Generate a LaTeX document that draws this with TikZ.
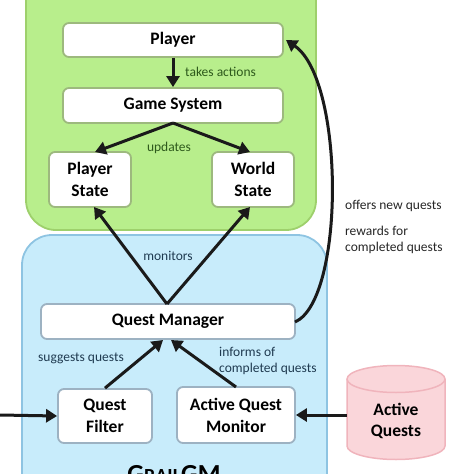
\documentclass[tikz,border=0pt]{standalone}
\usepackage{fontspec}
\setmainfont{Carlito}
\usetikzlibrary{arrows.meta}
\definecolor{greenfill}{HTML}{B8EE8C}
\definecolor{greenline}{HTML}{9ED06C}
\definecolor{bluefill}{HTML}{C8ECFB}
\definecolor{blueline}{HTML}{8EC4E2}
\definecolor{pinkfill}{HTML}{FAD6DA}
\definecolor{pinkline}{HTML}{F0B4BC}
\definecolor{gboxline}{HTML}{9DB97E}
\definecolor{bboxline}{HTML}{9DB2C2}
\definecolor{gtext}{HTML}{2E5A1C}
\definecolor{btext}{HTML}{1F3A50}
\definecolor{arrowc}{HTML}{1A1A1A}
\tikzset{
  box/.style={draw, line width=1.8pt, fill=white, rounded corners=6pt, inner sep=0pt,
    align=center, font=\fontsize{17.5}{22}\selectfont\bfseries},
  gbox/.style={box, draw=gboxline},
  bbox/.style={box, draw=bboxline},
  lbl/.style={font=\fontsize{13.5}{15.5}\selectfont, inner sep=0pt, align=left},
  arr/.style={draw=arrowc, line width=3pt, -{Triangle[length=11pt,width=13pt]}},
}
\begin{document}
\begin{tikzpicture}[x=1pt,y=-1pt]
\clip (0,0) rectangle (474,474);
\useasboundingbox (0,0) rectangle (474,474);
% containers
\draw[fill=greenfill, draw=greenline, line width=1.8pt, rounded corners=30pt] (26,-60) rectangle (316,230);
\draw[fill=bluefill, draw=blueline, line width=1.8pt, rounded corners=30pt] (22,235) rectangle (327,540);
% nodes
\node[gbox, minimum width=220pt, minimum height=34pt] (player) at (173,40) {Player};
\node[gbox, minimum width=220pt, minimum height=35pt] (gs) at (173,105.5) {Game System};
\node[gbox, minimum width=82pt, minimum height=55pt] (ps) at (90,179.5) {Player\\State};
\node[gbox, minimum width=82pt, minimum height=55pt] (ws) at (253,179.5) {World\\State};
\node[bbox, minimum width=254pt, minimum height=35pt] (qm) at (168,321.5) {Quest Manager};
\node[bbox, minimum width=94pt, minimum height=54pt] (qf) at (105,416) {Quest\\Filter};
\node[bbox, minimum width=118pt, minimum height=56pt] (aqm) at (236,415) {Active Quest\\Monitor};
% cylinder
\draw[fill=pinkfill, draw=pinkline, line width=1.5pt]
  (347,379) -- (347,446) arc[start angle=180, end angle=360, x radius=49pt, y radius=13.5pt]
  -- (445,379) arc[start angle=0, end angle=180, x radius=49pt, y radius=13.5pt] -- cycle;
\draw[draw=pinkline, line width=1.5pt] (347,379) arc[start angle=180, end angle=360, x radius=49pt, y radius=13.5pt];
\node[minimum width=98pt, minimum height=60pt, inner sep=0pt, align=center,
  font=\fontsize{17.5}{21}\selectfont\bfseries] (aq) at (396,421) {Active\\Quests};
% title
\node[inner sep=0pt, anchor=base] (title) at (174,482)
  {\bfseries\fontsize{26}{26}\selectfont G\fontsize{20}{20}\selectfont RAIL\fontsize{26}{26}\selectfont GM};
% coordinates
\coordinate (left) at (0,415);
\coordinate (gsb) at (173,123);
\coordinate (qmt) at (167,304);
\coordinate (qmr) at (295,322);
% connectors
\draw[arr] (player.south) -- (gs.north);
\draw[arr] (gsb) -- (95,152);
\draw[arr] (gsb) -- (250,152);
\draw[arr] (qmt) -- (94,207);
\draw[arr] (qmt) -- (250,207);
\draw[arr] (qf.north) -- (163,340);
\draw[arr] (236,387) -- (171,340);
\draw[arr] (left) -- (qf.west);
\draw[arr] (aq.west |- aqm.east) -- (aqm.east);
\draw[arr] (qmr) .. controls (345,300) and (345,80) .. (286,40);
% labels
\node[lbl, text=gtext, anchor=west] (l1) at (185,72) {takes actions};
\node[lbl, text=gtext] (l2) at (169,148) {updates};
\node[lbl, text=btext] (l3) at (168,256) {monitors};
\node[lbl, text=btext, anchor=west] (l4) at (38,358) {suggests quests};
\node[lbl, text=btext, anchor=west] (l5) at (219,361) {informs of\\completed quests};
\node[lbl, text=black!85, anchor=west] (l6) at (345,206) {offers new quests};
\node[lbl, text=black!85, anchor=west] (l7) at (345,240) {rewards for\\completed quests};
\end{tikzpicture}
\end{document}
